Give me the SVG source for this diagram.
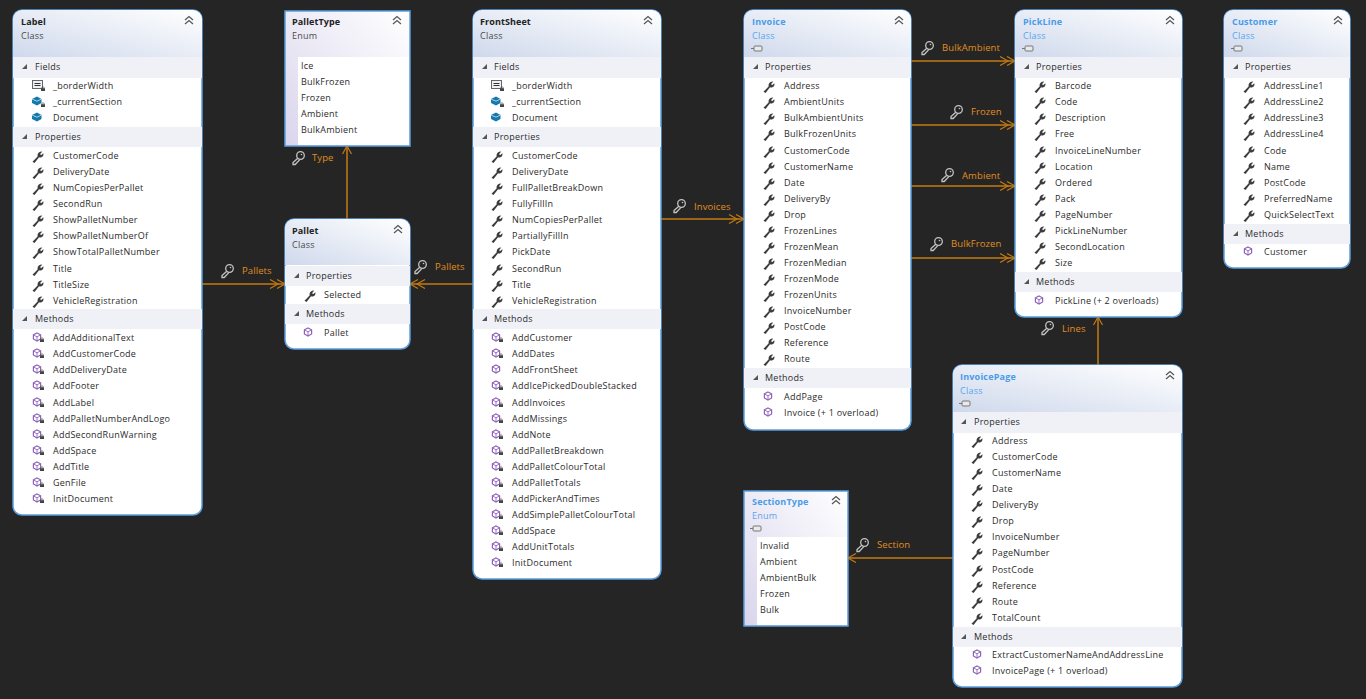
<svg xmlns="http://www.w3.org/2000/svg" xmlns:xlink="http://www.w3.org/1999/xlink" width="1366" height="699" viewBox="0 0 1366 699">
<style>
text{font-family:"Open Sans","Noto Sans","Liberation Sans",sans-serif;font-size:9px;fill:#2b2b2b;letter-spacing:.24px}
.t{font-weight:700;font-size:9px;fill:#222;letter-spacing:.1px}
.tb{font-weight:700;font-size:9px;fill:#4a9be8;letter-spacing:.2px}
.s{fill:#4a4a4a}
.sb{fill:#5aa5ee}
.box{fill:#fff;stroke:#5a9fe0;stroke-width:1.5}
.bar{fill:#f0f1f7}
.c{stroke:#c47a10;stroke-width:1.5;fill:none}
.l{fill:#e08d1e;font-size:9.5px;letter-spacing:.1px}
.k{fill:none;stroke:#c4c4c4;stroke-width:1.3}
.tri{fill:#555}
</style>
<defs>
<linearGradient id="hc" x1="0" y1="1" x2="1" y2="0"><stop offset="0" stop-color="#cfd9ec"/><stop offset="1" stop-color="#ffffff"/></linearGradient>
<linearGradient id="he" x1="0" y1="1" x2="1" y2="0"><stop offset="0" stop-color="#dad5ec"/><stop offset="1" stop-color="#ffffff"/></linearGradient>
<marker id="a1" markerWidth="12" markerHeight="12" refX="9" refY="5" orient="auto" markerUnits="userSpaceOnUse"><path d="M1 0.5L9 5L1 9.5" fill="none" stroke="#c47a10" stroke-width="1.2"/></marker>
<marker id="a2" markerWidth="18" markerHeight="12" refX="16" refY="5" orient="auto" markerUnits="userSpaceOnUse"><path d="M1 0.5L9 5L1 9.5M8 0.5L16 5L8 9.5" fill="none" stroke="#c47a10" stroke-width="1.2"/></marker>
<g id="w"><path transform="translate(.5 2) scale(.85)" d="M0 12.5L6 6.5Q5.5 2.5 9 1L11.5 0.5L9 3.5L10 5L12.8 2.5Q13.4 6 10.5 7.4Q9 8 7.7 7.4L2.4 14Z" fill="#3c3c3c"/></g>
<g id="m"><g transform="translate(1.2 1.2) scale(.8)"><path d="M6 1L10.5 3.3V8.5L6 11L1.5 8.5V3.3Z" fill="#fff" stroke="#8d63b8" stroke-width="1.5"/><path d="M1.5 3.3L6 5.8L10.5 3.3M6 5.8V11" fill="none" stroke="#8d63b8" stroke-width="1.1"/></g></g>
<g id="lock"><g transform="translate(1 .6) scale(.8)"><rect x="0" y="2" width="5" height="3.5" fill="#444"/><path d="M1 2V1Q2.5-.6 4 1V2" fill="none" stroke="#444" stroke-width=".8"/></g></g>
<g id="f1"><rect x="0.5" y="0.5" width="10" height="8" fill="#eef1f5" stroke="#666"/><path d="M2.5 3.5H8.5M2.5 5.5H8.5" stroke="#333"/></g>
<g id="f2"><path d="M0 3L5 0.5L9.5 3V7L5 9.5L0 7Z" fill="#1579ac"/><path d="M0 3L5 5.2L9.5 3" fill="none" stroke="#cfe6f2" stroke-width=".8"/></g>
<g id="sc"><rect x="3" y="0" width="8" height="5" rx="1" fill="#e9e9e9" stroke="#777"/><path d="M0 2.5H3" stroke="#777"/></g>
<g id="key"><circle cx="8.5" cy="4.5" r="3.8" class="k"/><circle cx="9.5" cy="3.5" r=".8" fill="#c4c4c4"/><path d="M5.8 7.2L1 11.5V13.5H3.2L7.8 8.6" class="k"/></g>
<path id="tr" d="M0 5L5 0V5Z" class="tri"/>
<g id="ch"><path d="M0 4L4 0.5L8 4M0 8L4 4.5L8 8" fill="none" stroke="#555" stroke-width="1.2"/></g>
<clipPath id="cLabel"><rect x="13" y="10" width="189" height="505" rx="9"/></clipPath>
<clipPath id="cPallet"><rect x="285" y="219" width="125" height="130" rx="9"/></clipPath>
<clipPath id="cFront"><rect x="473" y="10" width="188" height="569" rx="9"/></clipPath>
<clipPath id="cInv"><rect x="744" y="10" width="167" height="420" rx="9"/></clipPath>
<clipPath id="cPick"><rect x="1015" y="10" width="167" height="307" rx="9"/></clipPath>
<clipPath id="cCust"><rect x="1224" y="10" width="126" height="258" rx="9"/></clipPath>
<clipPath id="cPage"><rect x="953" y="365" width="229" height="322" rx="9"/></clipPath>
</defs>
<rect width="1366" height="699" fill="#252526"/>

<g id="connectors">
<path class="c" d="M202 284H285" marker-end="url(#a2)"/>
<path class="c" d="M473 284H410" marker-end="url(#a2)"/>
<path class="c" d="M347 219V146" marker-end="url(#a1)"/>
<path class="c" d="M661 219H744" marker-end="url(#a2)"/>
<path class="c" d="M911 61H1015" marker-end="url(#a2)"/>
<path class="c" d="M911 125H1015" marker-end="url(#a2)"/>
<path class="c" d="M911 186H1015" marker-end="url(#a2)"/>
<path class="c" d="M911 258H1015" marker-end="url(#a2)"/>
<path class="c" d="M1098 365V317" marker-end="url(#a1)"/>
<path class="c" d="M953 558H848" marker-end="url(#a1)"/>
<use href="#key" x="221" y="264"/><text class="l" x="242" y="274">Pallets</text>
<use href="#key" x="414" y="260"/><text class="l" x="435" y="270">Pallets</text>
<use href="#key" x="292" y="151"/><text class="l" x="312" y="161">Type</text>
<use href="#key" x="673" y="199"/><text class="l" x="694" y="210">Invoices</text>
<use href="#key" x="921" y="41"/><text class="l" x="942" y="51">BulkAmbient</text>
<use href="#key" x="950" y="105"/><text class="l" x="971" y="115">Frozen</text>
<use href="#key" x="941" y="168"/><text class="l" x="962" y="179">Ambient</text>
<use href="#key" x="930" y="237"/><text class="l" x="951" y="247">BulkFrozen</text>
<use href="#key" x="1041" y="321"/><text class="l" x="1062" y="332">Lines</text>
<use href="#key" x="856" y="538"/><text class="l" x="877" y="548">Section</text>
</g>

<g id="node-label">
<rect class="box" x="13" y="10" width="189" height="505" rx="9"/>
<g clip-path="url(#cLabel)"><rect x="13" y="10" width="189" height="47" fill="url(#hc)"/><rect class="bar" x="13" y="57" width="189" height="21"/><rect class="bar" x="13" y="127" width="189" height="20"/><rect class="bar" x="13" y="309" width="189" height="20"/></g>
<text class="t" x="21" y="25">Label</text><text class="s" x="21" y="39">Class</text><use href="#ch" x="185" y="16"/>
<use href="#tr" x="22" y="64"/><text x="35" y="70">Fields</text>
<use href="#f1" x="32" y="80"/><use href="#lock" x="40" y="86"/><text x="53" y="89">_borderWidth</text>
<use href="#f2" x="32" y="96"/><use href="#lock" x="40" y="102"/><text x="53" y="105">_currentSection</text>
<use href="#f2" x="32" y="112"/><text x="53" y="121">Document</text>
<use href="#tr" x="22" y="134"/><text x="35" y="140">Properties</text>
<use href="#w" x="32" y="149"/><text x="53" y="159">CustomerCode</text>
<use href="#w" x="32" y="165"/><text x="53" y="175">DeliveryDate</text>
<use href="#w" x="32" y="181"/><text x="53" y="191">NumCopiesPerPallet</text>
<use href="#w" x="32" y="197"/><text x="53" y="207">SecondRun</text>
<use href="#w" x="32" y="213"/><text x="53" y="223">ShowPalletNumber</text>
<use href="#w" x="32" y="229"/><text x="53" y="239">ShowPalletNumberOf</text>
<use href="#w" x="32" y="245"/><text x="53" y="255">ShowTotalPalletNumber</text>
<use href="#w" x="32" y="262"/><text x="53" y="272">Title</text>
<use href="#w" x="32" y="278"/><text x="53" y="288">TitleSize</text>
<use href="#w" x="32" y="294"/><text x="53" y="304">VehicleRegistration</text>
<use href="#tr" x="22" y="316"/><text x="35" y="322">Methods</text>
<use href="#m" x="31" y="331"/><use href="#lock" x="39" y="337"/><text x="53" y="341">AddAdditionalText</text>
<use href="#m" x="31" y="347"/><use href="#lock" x="39" y="353"/><text x="53" y="357">AddCustomerCode</text>
<use href="#m" x="31" y="363"/><use href="#lock" x="39" y="369"/><text x="53" y="373">AddDeliveryDate</text>
<use href="#m" x="31" y="379"/><use href="#lock" x="39" y="385"/><text x="53" y="389">AddFooter</text>
<use href="#m" x="31" y="396"/><use href="#lock" x="39" y="402"/><text x="53" y="406">AddLabel</text>
<use href="#m" x="31" y="412"/><use href="#lock" x="39" y="418"/><text x="53" y="422">AddPalletNumberAndLogo</text>
<use href="#m" x="31" y="428"/><use href="#lock" x="39" y="434"/><text x="53" y="438">AddSecondRunWarning</text>
<use href="#m" x="31" y="444"/><use href="#lock" x="39" y="450"/><text x="53" y="454">AddSpace</text>
<use href="#m" x="31" y="460"/><use href="#lock" x="39" y="466"/><text x="53" y="470">AddTitle</text>
<use href="#m" x="31" y="476"/><use href="#lock" x="39" y="482"/><text x="53" y="486">GenFile</text>
<use href="#m" x="31" y="492"/><use href="#lock" x="39" y="498"/><text x="53" y="502">InitDocument</text>
</g>

<g id="node-pallettype">
<rect class="box" x="285" y="11" width="125" height="135" style="fill:url(#he)"/>
<rect x="298" y="57" width="111" height="88" fill="#fff"/>
<text class="t" x="292" y="25">PalletType</text><text class="s" x="292" y="39">Enum</text><use href="#ch" x="393" y="16"/>
<text x="301" y="69">Ice</text><text x="301" y="85">BulkFrozen</text><text x="301" y="101">Frozen</text><text x="301" y="117">Ambient</text><text x="301" y="133">BulkAmbient</text>
</g>

<g id="node-pallet">
<rect class="box" x="285" y="219" width="125" height="130" rx="9"/>
<g clip-path="url(#cPallet)"><rect x="285" y="219" width="125" height="46" fill="url(#hc)"/><rect class="bar" x="285" y="266" width="125" height="20"/><rect class="bar" x="285" y="304" width="125" height="20"/></g>
<text class="t" x="292" y="234">Pallet</text><text class="s" x="292" y="248">Class</text><use href="#ch" x="394" y="225"/>
<use href="#tr" x="294" y="273"/><text x="306" y="279">Properties</text>
<use href="#w" x="304" y="288"/><text x="324" y="298">Selected</text>
<use href="#tr" x="294" y="311"/><text x="306" y="317">Methods</text>
<use href="#m" x="302" y="326"/><text x="324" y="336">Pallet</text>
</g>

<g id="node-frontsheet">
<rect class="box" x="473" y="10" width="188" height="569" rx="9"/>
<g clip-path="url(#cFront)"><rect x="473" y="10" width="188" height="47" fill="url(#hc)"/><rect class="bar" x="473" y="57" width="188" height="21"/><rect class="bar" x="473" y="127" width="188" height="20"/><rect class="bar" x="473" y="309" width="188" height="20"/></g>
<text class="t" x="480" y="25">FrontSheet</text><text class="s" x="480" y="39">Class</text><use href="#ch" x="644" y="16"/>
<use href="#tr" x="482" y="64"/><text x="494" y="70">Fields</text>
<use href="#f1" x="491" y="80"/><use href="#lock" x="499" y="86"/><text x="512" y="89">_borderWidth</text>
<use href="#f2" x="491" y="96"/><use href="#lock" x="499" y="102"/><text x="512" y="105">_currentSection</text>
<use href="#f2" x="491" y="112"/><text x="512" y="121">Document</text>
<use href="#tr" x="482" y="134"/><text x="494" y="140">Properties</text>
<use href="#w" x="491" y="149"/><text x="512" y="159">CustomerCode</text>
<use href="#w" x="491" y="165"/><text x="512" y="175">DeliveryDate</text>
<use href="#w" x="491" y="181"/><text x="512" y="191">FullPalletBreakDown</text>
<use href="#w" x="491" y="197"/><text x="512" y="207">FullyFillIn</text>
<use href="#w" x="491" y="213"/><text x="512" y="223">NumCopiesPerPallet</text>
<use href="#w" x="491" y="229"/><text x="512" y="239">PartiallyFillIn</text>
<use href="#w" x="491" y="245"/><text x="512" y="255">PickDate</text>
<use href="#w" x="491" y="262"/><text x="512" y="272">SecondRun</text>
<use href="#w" x="491" y="278"/><text x="512" y="288">Title</text>
<use href="#w" x="491" y="294"/><text x="512" y="304">VehicleRegistration</text>
<use href="#tr" x="482" y="316"/><text x="494" y="322">Methods</text>
<use href="#m" x="490" y="331"/><use href="#lock" x="498" y="337"/><text x="512" y="341">AddCustomer</text>
<use href="#m" x="490" y="347"/><use href="#lock" x="498" y="353"/><text x="512" y="357">AddDates</text>
<use href="#m" x="490" y="363"/><text x="512" y="373">AddFrontSheet</text>
<use href="#m" x="490" y="379"/><use href="#lock" x="498" y="385"/><text x="512" y="389">AddIcePickedDoubleStacked</text>
<use href="#m" x="490" y="396"/><use href="#lock" x="498" y="402"/><text x="512" y="406">AddInvoices</text>
<use href="#m" x="490" y="412"/><use href="#lock" x="498" y="418"/><text x="512" y="422">AddMissings</text>
<use href="#m" x="490" y="428"/><use href="#lock" x="498" y="434"/><text x="512" y="438">AddNote</text>
<use href="#m" x="490" y="444"/><use href="#lock" x="498" y="450"/><text x="512" y="454">AddPalletBreakdown</text>
<use href="#m" x="490" y="460"/><use href="#lock" x="498" y="466"/><text x="512" y="470">AddPalletColourTotal</text>
<use href="#m" x="490" y="476"/><use href="#lock" x="498" y="482"/><text x="512" y="486">AddPalletTotals</text>
<use href="#m" x="490" y="492"/><use href="#lock" x="498" y="498"/><text x="512" y="502">AddPickerAndTimes</text>
<use href="#m" x="490" y="508"/><use href="#lock" x="498" y="514"/><text x="512" y="518">AddSimplePalletColourTotal</text>
<use href="#m" x="490" y="524"/><use href="#lock" x="498" y="530"/><text x="512" y="534">AddSpace</text>
<use href="#m" x="490" y="540"/><use href="#lock" x="498" y="546"/><text x="512" y="550">AddUnitTotals</text>
<use href="#m" x="490" y="556"/><use href="#lock" x="498" y="562"/><text x="512" y="566">InitDocument</text>
</g>

<g id="node-invoice">
<rect class="box" x="744" y="10" width="167" height="420" rx="9"/>
<g clip-path="url(#cInv)"><rect x="744" y="10" width="167" height="47" fill="url(#hc)"/><rect class="bar" x="744" y="57" width="167" height="21"/><rect class="bar" x="744" y="368" width="167" height="20"/></g>
<text class="tb" x="752" y="25">Invoice</text><text class="sb" x="752" y="39">Class</text><use href="#sc" x="751" y="46"/><use href="#ch" x="895" y="16"/>
<use href="#tr" x="753" y="64"/><text x="765" y="70">Properties</text>
<use href="#w" x="763" y="79"/><text x="784" y="89">Address</text>
<use href="#w" x="763" y="95"/><text x="784" y="105">AmbientUnits</text>
<use href="#w" x="763" y="111"/><text x="784" y="121">BulkAmbientUnits</text>
<use href="#w" x="763" y="127"/><text x="784" y="137">BulkFrozenUnits</text>
<use href="#w" x="763" y="144"/><text x="784" y="154">CustomerCode</text>
<use href="#w" x="763" y="160"/><text x="784" y="170">CustomerName</text>
<use href="#w" x="763" y="176"/><text x="784" y="186">Date</text>
<use href="#w" x="763" y="192"/><text x="784" y="202">DeliveryBy</text>
<use href="#w" x="763" y="208"/><text x="784" y="218">Drop</text>
<use href="#w" x="763" y="224"/><text x="784" y="234">FrozenLines</text>
<use href="#w" x="763" y="240"/><text x="784" y="250">FrozenMean</text>
<use href="#w" x="763" y="256"/><text x="784" y="266">FrozenMedian</text>
<use href="#w" x="763" y="272"/><text x="784" y="282">FrozenMode</text>
<use href="#w" x="763" y="288"/><text x="784" y="298">FrozenUnits</text>
<use href="#w" x="763" y="304"/><text x="784" y="314">InvoiceNumber</text>
<use href="#w" x="763" y="320"/><text x="784" y="330">PostCode</text>
<use href="#w" x="763" y="336"/><text x="784" y="346">Reference</text>
<use href="#w" x="763" y="352"/><text x="784" y="362">Route</text>
<use href="#tr" x="753" y="375"/><text x="765" y="381">Methods</text>
<use href="#m" x="762" y="390"/><text x="784" y="400">AddPage</text>
<use href="#m" x="762" y="406"/><text x="784" y="416">Invoice (+ 1 overload)</text>
</g>

<g id="node-pickline">
<rect class="box" x="1015" y="10" width="167" height="307" rx="9"/>
<g clip-path="url(#cPick)"><rect x="1015" y="10" width="167" height="47" fill="url(#hc)"/><rect class="bar" x="1015" y="57" width="167" height="21"/><rect class="bar" x="1015" y="272" width="167" height="20"/></g>
<text class="tb" x="1023" y="25">PickLine</text><text class="sb" x="1023" y="39">Class</text><use href="#sc" x="1022" y="46"/><use href="#ch" x="1166" y="16"/>
<use href="#tr" x="1024" y="64"/><text x="1036" y="70">Properties</text>
<use href="#w" x="1034" y="79"/><text x="1055" y="89">Barcode</text>
<use href="#w" x="1034" y="95"/><text x="1055" y="105">Code</text>
<use href="#w" x="1034" y="111"/><text x="1055" y="121">Description</text>
<use href="#w" x="1034" y="127"/><text x="1055" y="137">Free</text>
<use href="#w" x="1034" y="144"/><text x="1055" y="154">InvoiceLineNumber</text>
<use href="#w" x="1034" y="160"/><text x="1055" y="170">Location</text>
<use href="#w" x="1034" y="176"/><text x="1055" y="186">Ordered</text>
<use href="#w" x="1034" y="192"/><text x="1055" y="202">Pack</text>
<use href="#w" x="1034" y="208"/><text x="1055" y="218">PageNumber</text>
<use href="#w" x="1034" y="224"/><text x="1055" y="234">PickLineNumber</text>
<use href="#w" x="1034" y="240"/><text x="1055" y="250">SecondLocation</text>
<use href="#w" x="1034" y="256"/><text x="1055" y="266">Size</text>
<use href="#tr" x="1024" y="279"/><text x="1036" y="285">Methods</text>
<use href="#m" x="1033" y="294"/><text x="1055" y="304">PickLine (+ 2 overloads)</text>
</g>

<g id="node-customer">
<rect class="box" x="1224" y="10" width="126" height="258" rx="9"/>
<g clip-path="url(#cCust)"><rect x="1224" y="10" width="126" height="47" fill="url(#hc)"/><rect class="bar" x="1224" y="57" width="126" height="21"/><rect class="bar" x="1224" y="224" width="126" height="20"/></g>
<text class="tb" x="1232" y="25">Customer</text><text class="sb" x="1232" y="39">Class</text><use href="#sc" x="1231" y="46"/><use href="#ch" x="1334" y="16"/>
<use href="#tr" x="1233" y="64"/><text x="1245" y="70">Properties</text>
<use href="#w" x="1243" y="79"/><text x="1264" y="89">AddressLine1</text>
<use href="#w" x="1243" y="95"/><text x="1264" y="105">AddressLine2</text>
<use href="#w" x="1243" y="111"/><text x="1264" y="121">AddressLine3</text>
<use href="#w" x="1243" y="127"/><text x="1264" y="137">AddressLine4</text>
<use href="#w" x="1243" y="144"/><text x="1264" y="154">Code</text>
<use href="#w" x="1243" y="160"/><text x="1264" y="170">Name</text>
<use href="#w" x="1243" y="176"/><text x="1264" y="186">PostCode</text>
<use href="#w" x="1243" y="192"/><text x="1264" y="202">PreferredName</text>
<use href="#w" x="1243" y="208"/><text x="1264" y="218">QuickSelectText</text>
<use href="#tr" x="1233" y="231"/><text x="1245" y="237">Methods</text>
<use href="#m" x="1242" y="245"/><text x="1264" y="255">Customer</text>
</g>

<g id="node-invoicepage">
<rect class="box" x="953" y="365" width="229" height="322" rx="9"/>
<g clip-path="url(#cPage)"><rect x="953" y="365" width="229" height="47" fill="url(#hc)"/><rect class="bar" x="953" y="412" width="229" height="21"/><rect class="bar" x="953" y="627" width="229" height="20"/></g>
<text class="tb" x="960" y="380">InvoicePage</text><text class="sb" x="960" y="394">Class</text><use href="#sc" x="959" y="401"/><use href="#ch" x="1166" y="371"/>
<use href="#tr" x="961" y="419"/><text x="974" y="425">Properties</text>
<use href="#w" x="971" y="434"/><text x="992" y="444">Address</text>
<use href="#w" x="971" y="450"/><text x="992" y="460">CustomerCode</text>
<use href="#w" x="971" y="466"/><text x="992" y="476">CustomerName</text>
<use href="#w" x="971" y="482"/><text x="992" y="492">Date</text>
<use href="#w" x="971" y="498"/><text x="992" y="508">DeliveryBy</text>
<use href="#w" x="971" y="514"/><text x="992" y="524">Drop</text>
<use href="#w" x="971" y="530"/><text x="992" y="540">InvoiceNumber</text>
<use href="#w" x="971" y="546"/><text x="992" y="556">PageNumber</text>
<use href="#w" x="971" y="563"/><text x="992" y="573">PostCode</text>
<use href="#w" x="971" y="579"/><text x="992" y="589">Reference</text>
<use href="#w" x="971" y="595"/><text x="992" y="605">Route</text>
<use href="#w" x="971" y="611"/><text x="992" y="621">TotalCount</text>
<use href="#tr" x="961" y="634"/><text x="974" y="640">Methods</text>
<use href="#m" x="971" y="648"/><text x="992" y="658">ExtractCustomerNameAndAddressLine</text>
<use href="#m" x="971" y="664"/><text x="992" y="674">InvoicePage (+ 1 overload)</text>
</g>

<g id="node-sectiontype">
<rect class="box" x="744" y="491" width="104" height="135" style="fill:url(#he)"/>
<rect x="757" y="537" width="90" height="88" fill="#fff"/>
<text class="tb" x="752" y="505">SectionType</text><text class="sb" x="752" y="519">Enum</text><use href="#sc" x="750" y="526"/><use href="#ch" x="832" y="496"/>
<text x="760" y="549">Invalid</text><text x="760" y="565">Ambient</text><text x="760" y="581">AmbientBulk</text><text x="760" y="597">Frozen</text><text x="760" y="613">Bulk</text>
</g>
</svg>
